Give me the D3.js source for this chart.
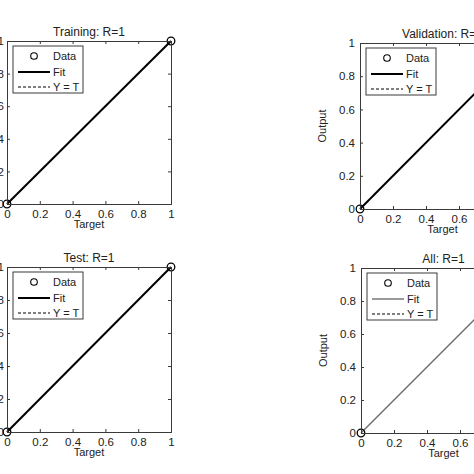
<!DOCTYPE html>
<html>

<head>
  <meta charset="utf-8">
  <title>Regression plots</title>
  <style>
    body { margin: 0; background: #fff; }
    svg { display: block; font-family: "Liberation Sans", Arial, sans-serif; }
  </style>
</head>

<body>
  <svg width="474" height="474"></svg>
  <script src="https://d3js.org/d3.v7.min.js"></script>
  <script>
    // 1. data
    var panelTitles = ["Training: R=1", "Validation: R=1", "Test: R=1", "All: R=1"];
    var targets = [[0, 1], [0, 1], [0, 1], [0, 1]];
    var outputs = [[0, 1], [0, 1], [0, 1], [0, 1]];
    var fitSlope = [1, 1, 1, 1];
    var fitIntercept = [0, 0, 0, 0];
    var tickValues = [0, 0.2, 0.4, 0.6, 0.8, 1];
    var tickLabels = ["0", "0.2", "0.4", "0.6", "0.8", "1"];
    var legendLabels = ["Data", "Fit", "Y = T"];

    // layout of the 4 axes (the figure is cropped at the left and right)
    var boxes = [
      { x: 7, y: 41, w: 164, h: 163, pad: 3 },
      { x: 360, y: 43, w: 165, h: 166, pad: 5 },
      { x: 7, y: 267, w: 164, h: 165, pad: 3 },
      { x: 361, y: 268, w: 165, h: 165, pad: 5 }
    ];
    var fitColors = ["#000", "#000", "#000", "#6e6e6e"];
    var fitWidths = [2, 2, 2, 1.4];
    var axisColor = "#3a3a3a";

    var svg = d3.select("svg");

    panelTitles.forEach(function (title, p) {
      var b = boxes[p];
      var x = d3.scaleLinear().domain([0, 1]).range([0, b.w]);
      var y = d3.scaleLinear().domain([0, 1]).range([b.h, 0]);
      var g = svg.append("g").attr("transform", "translate(" + b.x + "," + b.y + ")");

      g.append("rect").attr("width", b.w).attr("height", b.h).attr("fill", "#fff");

      // Y = T line (dashed)
      var line = d3.line().x(function (d) { return x(d[0]); }).y(function (d) { return y(d[1]); });
      g.append("path")
        .attr("d", line([[0, 0], [1, 1]]))
        .attr("fill", "none").attr("stroke", "#000").attr("stroke-width", 1)
        .attr("stroke-dasharray", "3,2");

      // fit line
      var fitPts = [0, 1].map(function (t) { return [t, fitSlope[p] * t + fitIntercept[p]]; });
      g.append("path")
        .attr("d", line(fitPts))
        .attr("fill", "none").attr("stroke", fitColors[p]).attr("stroke-width", fitWidths[p]);

      // data circles
      g.selectAll(".pt")
        .data(targets[p].map(function (t, i) { return [t, outputs[p][i]]; }))
        .enter().append("circle")
        .attr("cx", function (d) { return x(d[0]); })
        .attr("cy", function (d) { return y(d[1]); })
        .attr("r", 3.8)
        .attr("fill", "none").attr("stroke", "#000").attr("stroke-width", 1.3);

      // axes: ticks inward on all sides, box on
      var fmt = function (d) { return tickLabels[tickValues.indexOf(d)]; };
      var axB = d3.axisBottom(x).tickValues(tickValues).tickSize(-3).tickPadding(6).tickFormat(fmt);
      var axL = d3.axisLeft(y).tickValues(tickValues).tickSize(-3).tickPadding(b.pad).tickFormat(fmt);
      var axT = d3.axisTop(x).tickValues(tickValues).tickSize(-3).tickFormat("");
      var axR = d3.axisRight(y).tickValues(tickValues).tickSize(-3).tickFormat("");

      [
        [axB, "translate(0," + b.h + ")"],
        [axL, null],
        [axT, null],
        [axR, "translate(" + b.w + ",0)"]
      ].forEach(function (a) {
        var ag = g.append("g").call(a[0]);
        if (a[1]) ag.attr("transform", a[1]);
        ag.select(".domain").attr("stroke", axisColor);
        ag.selectAll(".tick line").attr("stroke", axisColor);
        ag.selectAll("text").attr("fill", "#222").style("font-size", "11.5px")
          .style("font-family", "\"Liberation Sans\", Arial, sans-serif");
      });

      // title and axis labels
      g.append("text")
        .attr("x", b.w / 2).attr("y", -5)
        .attr("text-anchor", "middle")
        .style("font-size", "12px").attr("fill", "#222")
        .text(title);
      g.append("text")
        .attr("x", b.w / 2).attr("y", b.h + 24)
        .attr("text-anchor", "middle")
        .style("font-size", "11px").attr("fill", "#222")
        .text("Target");
      g.append("text")
        .attr("transform", "translate(-34," + (b.h / 2) + ") rotate(-90)")
        .attr("text-anchor", "middle")
        .style("font-size", "11px").attr("fill", "#222")
        .text("Output");

      // legend
      var lg = g.append("g").attr("transform", "translate(6,5)");
      lg.append("rect")
        .attr("width", 70).attr("height", 47)
        .attr("fill", "#fff").attr("stroke", axisColor).attr("stroke-width", 1);
      var rows = [10, 26, 41];
      lg.append("circle")
        .attr("cx", 21).attr("cy", rows[0]).attr("r", 3.3)
        .attr("fill", "none").attr("stroke", "#000").attr("stroke-width", 1.1);
      lg.append("line")
        .attr("x1", 5).attr("x2", 37).attr("y1", rows[1]).attr("y2", rows[1])
        .attr("stroke", fitColors[p]).attr("stroke-width", fitWidths[p]);
      lg.append("line")
        .attr("x1", 5).attr("x2", 37).attr("y1", rows[2]).attr("y2", rows[2])
        .attr("stroke", "#000").attr("stroke-width", 1).attr("stroke-dasharray", "3,2");
      lg.selectAll(".lt")
        .data(legendLabels)
        .enter().append("text")
        .attr("x", 40)
        .attr("y", function (d, i) { return rows[i] + 4; })
        .style("font-size", "11px").attr("fill", "#222")
        .text(function (d) { return d; });
    });
  </script>
</body>

</html>
